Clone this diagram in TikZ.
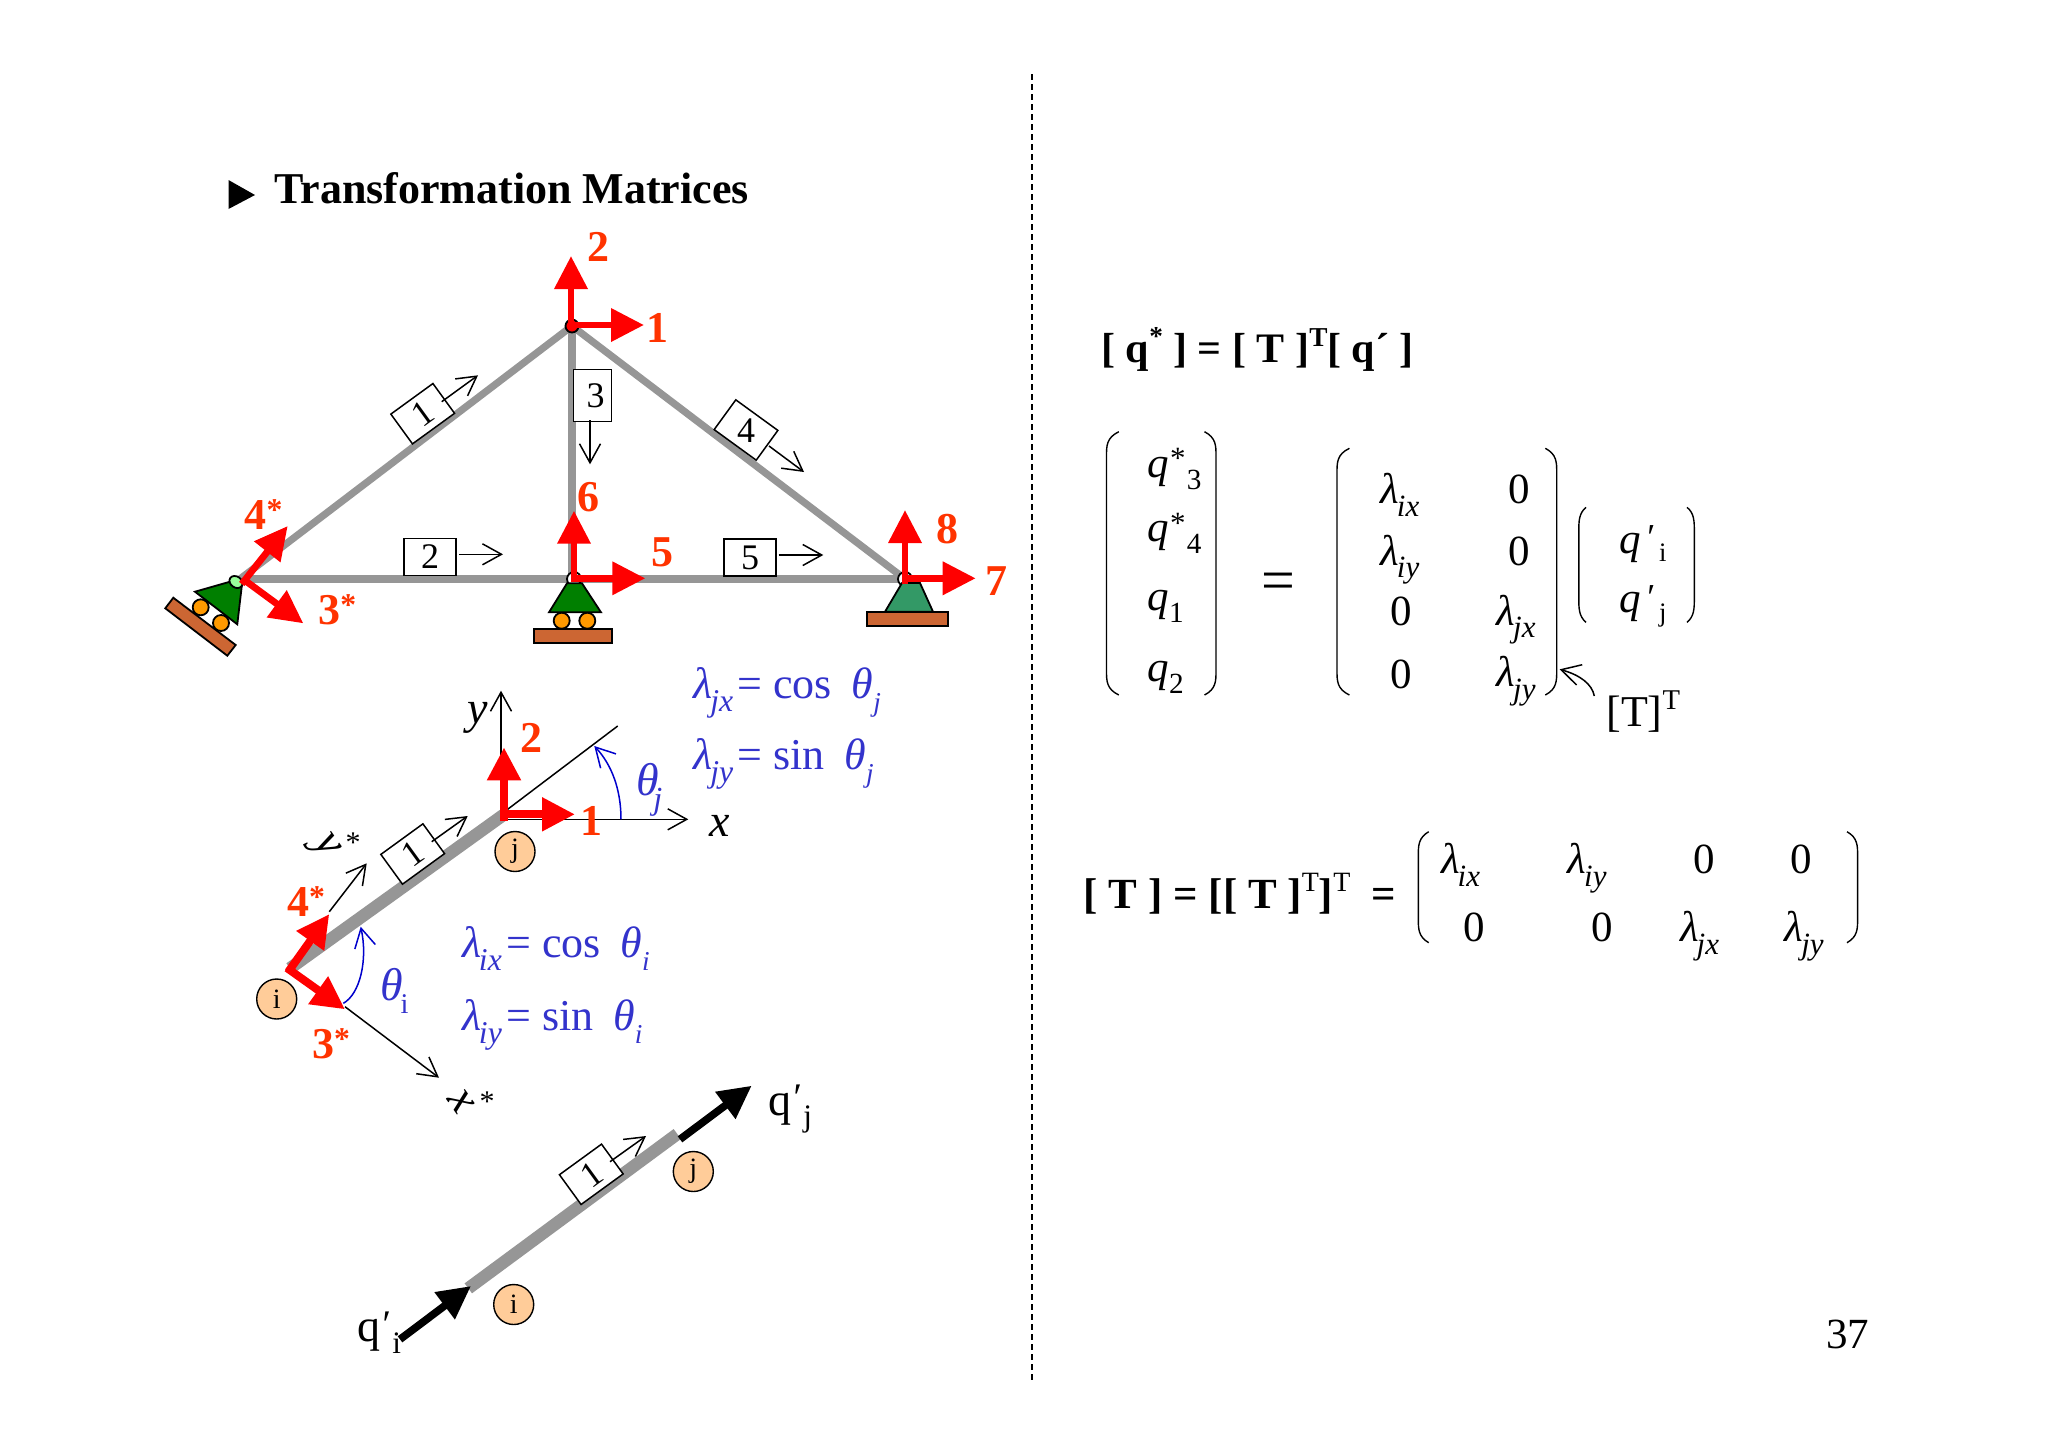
\documentclass[tikz,border=0pt]{standalone}
\usepackage{fontspec}
\usepackage{graphicx}
\setmainfont{Liberation Serif}
\usetikzlibrary{arrows.meta}
\definecolor{membergray}{HTML}{969696}
\definecolor{labelred}{HTML}{FF3300}
\definecolor{supgreen}{HTML}{007F00}
\definecolor{supteal}{HTML}{339966}
\definecolor{roller}{HTML}{FF9900}
\definecolor{ground}{HTML}{CC6633}
\definecolor{nodepeach}{HTML}{FFCC99}
\definecolor{eqblue}{HTML}{3333CC}
\definecolor{arcblue}{HTML}{0000CC}
\newcommand{\sbs}[1]{\raisebox{-.3em}{\scalebox{.62}{#1}}}
\newcommand{\lam}[1]{{\itshape λ}\kern-.05em\raisebox{-.3em}{\scalebox{.72}{\itshape #1}}}
\newcommand{\qs}[1]{{\itshape q}\kern.02em\raisebox{.2em}{\scalebox{.72}{*}}\kern.03em\raisebox{-.28em}{\scalebox{.68}{#1}}}
\newcommand{\qn}[1]{{\itshape q}\raisebox{-.28em}{\scalebox{.68}{#1}}}
\newcommand{\qp}[1]{{\itshape q}\kern.1em\raisebox{.08em}{\scalebox{.85}{\itshape ′}}\kern.14em\raisebox{-.2em}{\scalebox{.62}{#1}}}
\newcommand{\uqp}[1]{q\raisebox{.1em}{\scalebox{.85}{\itshape ′}}\kern.07em\raisebox{-.25em}{\scalebox{.68}{#1}}}
\newcommand{\fs}[1]{\fontsize{#1}{#1}\selectfont}
\newcommand{\dstar}{\raisebox{.2em}{\scalebox{.72}{*}}}
% left/right parenthesis: x-edge, x-tick, y-top, y-bottom
\newcommand{\paren}[4]{\draw[parenline] (#2,#3) .. controls (#1,#3+6) and (#1,#3+14) .. (#1,#3+24) -- (#1,#4-24) .. controls (#1,#4-14) and (#1,#4-6) .. (#2,#4);}
\tikzset{
  x=.5pt,y=-.5pt,
  member/.style={draw=membergray,line width=3.6pt},
  thick member/.style={draw=membergray,line width=6.2pt},
  redarrow/.style={draw=red,line width=3.4pt,-{Triangle[length=16.5pt,width=16pt]}},
  heavy redarrow/.style={draw=red,line width=4pt,-{Triangle[length=16.5pt,width=16pt]}},
  blackarrow/.style={draw=black,line width=3.8pt,-{Triangle[length=16.5pt,width=16pt]}},
  thin arrow/.style={draw=black,line width=.75pt,-{Straight Barb[length=9.5pt,width=10.5pt]}},
  blue arrow/.style={draw=arcblue,line width=.75pt,-{Straight Barb[length=9.5pt,width=10.5pt]}},
  numbox/.style={draw=black,fill=white,line width=.75pt,inner sep=0pt,minimum width=26pt,minimum height=18.4pt,font=\fs{18}},
  dof/.style={text=labelred,font=\fs{22}\bfseries,anchor=base,inner sep=0pt},
  dofs/.style={text=labelred,font=\fs{22}\bfseries,anchor=base west,inner sep=0pt},
  endnode/.style={circle,draw=black,fill=nodepeach,line width=.7pt,minimum size=20pt,inner sep=0pt,font=\fs{14}},
  ink/.style={draw=black,line width=.9pt},
  parenline/.style={draw=black,line width=.7pt},
  txt/.style={anchor=base west,inner sep=0pt,font=\fs{21.5}},
  eqn/.style={anchor=base west,inner sep=0pt,font=\fs{22},text=eqblue},
  cnt/.style={anchor=base,inner sep=0pt,font=\fs{21.5}},
}
\begin{document}
\begin{tikzpicture}
\useasboundingbox (0,0) rectangle (2048,1447);
\fill[white] (0,0) rectangle (2048,1447);

% divider
\coordinate (divtop) at (1032,74);
\coordinate (divbot) at (1032,1383);
\draw[black,line width=.6pt,dash pattern=on 3pt off 2pt] (divtop) -- (divbot);

% title
\fill[black] (228.5,180) -- (255,195) -- (228.5,209) -- cycle;
\node[txt,font=\fs{22}\bfseries] (title) at (274,203) {Transformation Matrices};

% ---- truss ----
\coordinate (J1) at (236,582);
\coordinate (J1b) at (246,579);
\coordinate (J2) at (572,326);
\coordinate (J3) at (574,579);
\coordinate (J4) at (905,579);
\draw[member] (J1) -- (J2);
\draw[member] (J1b) -- (J3);
\draw[member] (J2) -- (J2|-J3);
\draw[member] (J2) -- (J4);
\draw[member] (J3) -- (J4);

% joints
\draw[black,line width=.9pt,fill=red] (J2) circle (6.5);
\draw[black,line width=.9pt,fill=white] (J3) circle (7);
\draw[black,line width=.9pt,fill=white] (J4) circle (7);

% left support
\draw[ink,fill=ground] (173.3,597.7) -- (235.7,645) -- (227.3,655.7) -- (165.3,608.3) -- cycle;
\draw[ink,fill=roller] (200.7,607.3) circle (8);
\draw[ink,fill=roller] (221,623) circle (8);
\draw[ink,fill=supgreen] (195,591.7) -- (230,581.7) -- (241.7,586.7) -- (237.3,624.3) -- cycle;
\draw[black,line width=.9pt,fill=green!40!white,rotate around={-35:(J1)}] (J1) ellipse (7 and 5.5);

% middle support
\draw[ink,fill=ground] (534.3,629) rectangle (611.7,643.3);
\draw[ink,fill=roller] (561.7,620.7) circle (8);
\draw[ink,fill=roller] (587.3,620.7) circle (8);
\draw[ink,fill=supgreen] (567,583.3) -- (582,583.3) -- (601,612.3) -- (549,612.3) -- cycle;

% right support
\draw[ink,fill=ground] (867.3,612.3) rectangle (947.7,625.7);
\draw[ink,fill=supteal] (902,583) -- (920,583) -- (933,611.7) -- (885,611.7) -- cycle;

% member labels
\node[numbox,rotate=36] (b1) at (422.7,413.7) {\raisebox{-3.5pt}{1}};
\node[numbox] (b2) at (430,557) {\raisebox{-3.5pt}{2}};
\node[numbox,minimum width=18.8pt,minimum height=26.2pt] (b3) at (592.5,395.5) {\hspace{3pt}\raisebox{-3pt}{3}};
\node[numbox,rotate=-36] (b4) at (746,430) {};
\node[inner sep=0pt,font=\fs{18}] (b4t) at (746,431) {4};
\node[numbox] (b5) at (750,557.6) {\raisebox{-4pt}{5}};
\coordinate (a1s) at (441.7,401.7); \coordinate (a1e) at (478,375.3);
\coordinate (a2s) at (459,554.3);   \coordinate (a2e) at (503,554.3);
\coordinate (a3s) at (590,420);     \coordinate (a3e) at (590,464.3);
\coordinate (a4s) at (769,446);     \coordinate (a4e) at (804,472);
\coordinate (a5s) at (778.7,555);   \coordinate (a5e) at (823.3,555);
\draw[thin arrow] (a1s) -- (a1e);
\draw[thin arrow] (a2s) -- (a2e);
\draw[thin arrow] (a3s) -- (a3e);
\draw[thin arrow] (a4s) -- (a4e);
\draw[thin arrow] (a5s) -- (a5e);

% red dof arrows
\coordinate (t2) at (571,256); \coordinate (t1) at (644,325);
\coordinate (t4s) at (287.7,526); \coordinate (o4s) at (241.7,584);
\coordinate (t3s) at (303.3,623.3); \coordinate (o3s) at (246.7,581.7);
\coordinate (t6) at (574,510.7); \coordinate (t5) at (645.3,578.3);
\coordinate (t8) at (905,510); \coordinate (t7) at (975.7,578.3);
\coordinate (o2) at (571,330); \coordinate (o1) at (568,325);
\coordinate (o6) at (574,582); \coordinate (o5) at (571,578.3);
\coordinate (o8) at (905,584); \coordinate (o7) at (902,578.3);
\draw[redarrow] (o2) -- (t2);
\draw[redarrow] (o1) -- (t1);
\draw[redarrow] (o4s) -- (t4s);
\draw[redarrow] (o3s) -- (t3s);
\draw[redarrow] (o6) -- (t6);
\draw[redarrow] (o5) -- (t5);
\draw[redarrow] (o8) -- (t8);
\draw[redarrow] (o7) -- (t7);

\node[dof] (l2) at (598,261) {2};
\node[dof] (l1) at (657,342) {1};
\node[dof] (l6) at (588,511) {6};
\node[dof] (l5) at (662,566) {5};
\node[dof] (l8) at (947,543) {8};
\node[dof] (l7) at (996,595) {7};
\node[dofs] (l4s) at (244.3,529.3) {4\dstar};
\node[dofs] (l3s) at (318,624.7) {3\dstar};

% ---- element in local/global axes ----
\coordinate (Ei) at (290,968.3);
\coordinate (Ej) at (503.3,815);
\draw[thick member] (Ei) -- (Ej);
\node[numbox,rotate=36] (mb) at (412.7,854) {\raisebox{-4pt}{1}};
\coordinate (ma1s) at (431.7,841.7); \coordinate (ma1e) at (467.7,816);
\draw[thin arrow] (ma1s) -- (ma1e);

% axes
\coordinate (ax0) at (501,819.3);
\coordinate (axx) at (688.3,819.3);
\coordinate (axy) at (501,690.7);
\coordinate (inc0) at (506.7,810);
\coordinate (inc1) at (617.7,726);
\draw[thin arrow] (ax0) -- (axx);
\draw[thin arrow] (ax0) -- (axy);
\draw[black,line width=.75pt] (inc0) -- (inc1);
\coordinate (ys0) at (329.3,911.7); \coordinate (ys1) at (366.7,863.3);
\coordinate (xs0) at (345,1006.7);  \coordinate (xs1) at (439,1077.7);
\draw[thin arrow] (ys0) -- (ys1);
\draw[thin arrow] (xs0) -- (xs1);

% blue angle arcs
\coordinate (aj0) at (621,819.3); \coordinate (aj1) at (594.3,746);
\draw[blue arrow] (aj0) .. controls (621,790) and (612,765) .. (aj1);
\coordinate (ai0) at (343.3,1003.3); \coordinate (ai1) at (360.7,926.7);
\draw[blue arrow] (ai0) .. controls (360,994) and (368,960) .. (ai1);

% red arrows at element
\coordinate (mj2) at (504,747.3); \coordinate (mj1) at (575,814.3);
\coordinate (mo2) at (504,821); \coordinate (mo1) at (501,814.3);
\draw[heavy redarrow] (mo2) -- (mj2);
\draw[heavy redarrow] (mo1) -- (mj1);
\coordinate (mi4) at (329.3,914); \coordinate (mio4) at (288.3,971.7);
\coordinate (mi3) at (345,1009.3); \coordinate (mio3) at (287,968);
\draw[heavy redarrow] (mio4) -- (mi4);
\draw[heavy redarrow] (mio3) -- (mi3);

\node[dof] (m2) at (531.7,752.5) {2};
\node[dof] (m1) at (591.7,835) {1};
\node[dofs] (m4s) at (286.7,916.7) {4\dstar};
\node[dofs] (m3s) at (311.7,1058.3) {3\dstar};

\node[endnode] (ni) at (276.7,999) {i};
\node[endnode] (nj) at (515,851.5) {j};

\node[txt,font=\fs{23}\itshape] (ylab) at (467,723) {y};
\node[txt,font=\fs{23}\itshape] (xlab) at (709,836) {x};
\node[inner sep=0pt,font=\fs{23}\itshape,rotate=-55] (yslab) at (324,848) {y};
\node[inner sep=0pt,font=\fs{15}] (ysstar) at (353,843) {*};
\node[inner sep=0pt,font=\fs{23}\itshape,rotate=-55] (xslab) at (461,1102) {x};
\node[inner sep=0pt,font=\fs{15}] (xsstar) at (487,1102) {*};

\node[txt,text=eqblue,font=\fs{23}] (thj) at (636,795) {{\itshape θ}\kern-.12em\raisebox{-.32em}{\scalebox{.7}{\itshape j}}};
\node[txt,text=eqblue,font=\fs{23}] (thi) at (380,1000) {{\itshape θ}\kern-.05em\sbs{i}};

\node[eqn] (e1) at (693,698) {\lam{jx}\kern.1em= cos\kern.45em{\itshape θ}\sbs{\itshape j}};
\node[eqn] (e2) at (693,769) {\lam{jy}\kern.1em= sin\kern.45em{\itshape θ}\sbs{\itshape j}};
\node[eqn] (e3) at (461.7,957.7) {\lam{ix}\kern.1em= cos\kern.45em{\itshape θ}\sbs{\itshape i}};
\node[eqn] (e4) at (461.7,1030.7) {\lam{iy}\kern.1em= sin\kern.45em{\itshape θ}\sbs{\itshape i}};

% ---- element with local dofs ----
\coordinate (Bi) at (468.3,1288.3);
\coordinate (Bj) at (677.3,1134);
\draw[thick member] (Bi) -- (Bj);
\node[numbox,rotate=36] (bb) at (591.3,1174.3) {\raisebox{-4pt}{1}};
\coordinate (ba1s) at (610,1161.7); \coordinate (ba1e) at (646,1136);
\draw[thin arrow] (ba1s) -- (ba1e);
\coordinate (qis) at (400,1339.3); \coordinate (qit) at (471,1286);
\coordinate (qjs) at (680,1139.3); \coordinate (qjt) at (751.7,1085.7);
\draw[blackarrow] (qis) -- (qit);
\draw[blackarrow] (qjs) -- (qjt);
\node[endnode] (bni) at (513.7,1304.5) {i};
\node[endnode] (bnj) at (693.3,1171.5) {j};
\node[txt,font=\fs{23}] (qi) at (357.3,1341.7) {\uqp{i}};
\node[txt,font=\fs{23}] (qj) at (768.3,1115) {\uqp{j}};

% ---- right column ----
\node[txt,font=\fs{21}\bfseries] (eqa) at (1101,362) {[ q\raisebox{.4em}{\scalebox{.65}{*}} ] = [ T ]\raisebox{.38em}{\scalebox{.65}{T}}[ q´ ]};

\paren{1106.5}{1118.8}{431.7}{695}
\paren{1216}{1204.5}{431.7}{695}
\node[txt] (q3) at (1147.3,477) {\qs{3}};
\node[txt] (q4) at (1147.3,541.7) {\qs{4}};
\node[txt] (q1) at (1147.3,610) {\qn{1}};
\node[txt] (q2) at (1147.3,681.7) {\qn{2}};
\node[cnt,font=\fs{30}] (eqsign) at (1278,600) {=};

\paren{1337}{1349.4}{448.3}{695}
\paren{1556.7}{1545.3}{448.3}{695}
\node[txt] (m11) at (1380,503.3) {\lam{ix}};
\node[txt] (m21) at (1380,565) {\lam{iy}};
\node[cnt] (m31) at (1401.2,625) {0};
\node[cnt] (m41) at (1401.2,688) {0};
\node[cnt] (m12) at (1518.8,503.3) {0};
\node[cnt] (m22) at (1518.8,565) {0};
\node[txt] (m32) at (1496.3,625) {\lam{jx}};
\node[txt] (m42) at (1496.3,686.7) {\lam{jy}};

\paren{1578.8}{1586}{507.3}{622.3}
\paren{1694.3}{1687}{507.3}{622.3}
\node[txt] (qpi) at (1618.8,553) {\qp{i}};
\node[txt] (qpj) at (1618.8,612.7) {\qp{j}};

\coordinate (tc0) at (1594.3,696);
\coordinate (tc1) at (1559.6,669.3);
\draw[thin arrow] (tc0) .. controls (1592,684) and (1580,675) .. (tc1);
\node[txt,font=\fs{22}] (TT) at (1606,726.7) {[T]\raisebox{.38em}{\scalebox{.65}{T}}};

\node[txt,font=\fs{21.5}\bfseries] (eqb) at (1083.5,908) {[ T ] = [[ T ]\raisebox{.38em}{\scalebox{.65}{\mdseries T}}]\raisebox{.38em}{\scalebox{.65}{\mdseries T}} \ =};
\paren{1418.3}{1428.7}{831.7}{942.7}
\paren{1857.6}{1847}{831.7}{942.7}
\node[txt] (n11) at (1440.8,873.3) {\lam{ix}};
\node[txt] (n12) at (1567.3,873.3) {\lam{iy}};
\node[cnt] (n13) at (1704.3,873.3) {0};
\node[cnt] (n14) at (1801.6,873.3) {0};
\node[cnt] (n21) at (1474.7,941.7) {0};
\node[cnt] (n22) at (1602.4,941.7) {0};
\node[txt] (n23) at (1679.8,941.7) {\lam{jx}};
\node[txt] (n24) at (1784.4,941.7) {\lam{jy}};

\node[txt] (page) at (1826,1348) {37};
\end{tikzpicture}
\end{document}
